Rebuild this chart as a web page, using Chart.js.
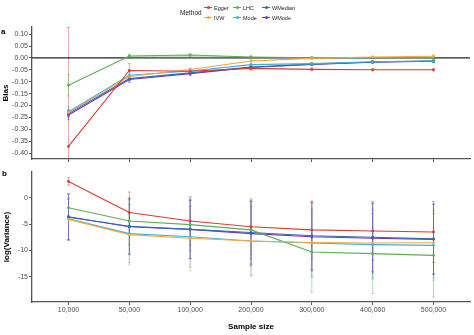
<!DOCTYPE html>
<html>
<head>
<meta charset="utf-8">
<script src="https://cdn.jsdelivr.net/npm/chart.js@4.4.0/dist/chart.umd.min.js"></script>
<style>
  body { margin: 0; background: #fff; font-family: "Liberation Sans", Arial, sans-serif; }
  #wrap { position: relative; width: 474px; height: 335px; overflow: hidden; }
  canvas { position: absolute; left: 0; }
  .t { position: absolute; white-space: nowrap; color: #000; }
  .lab { position: absolute; font-size: 5.5px; color: #222; line-height: 6px; }
  .sym { position: absolute; width: 8px; height: 1.3px; }
  .dot { position: absolute; width: 3px; height: 3px; border-radius: 50%; }
</style>
</head>
<body>
<div id="wrap">
  <canvas id="top" width="474" height="165" style="top:0"></canvas>
  <canvas id="bot" width="474" height="170" style="top:165px"></canvas>
  <div class="t" style="left:1px;top:27px;font-size:8px;font-weight:bold">a</div>
  <div class="t" style="left:2px;top:169px;font-size:8px;font-weight:bold">b</div>
  <div class="t" style="left:5px;top:93px;font-size:8px;font-weight:bold;transform:translate(-50%,-50%) rotate(-90deg)">Bias</div>
  <div class="t" style="left:6px;top:237px;font-size:8px;font-weight:bold;transform:translate(-50%,-50%) rotate(-90deg)">log(Variance)</div>
  <div class="t" style="left:251px;top:326px;font-size:8px;font-weight:bold;transform:translate(-50%,-50%)">Sample size</div>
  <div class="t" style="left:180px;top:9px;font-size:6.5px;color:#222">Method</div>
  <div id="legend"></div>
</div>
<script>
// x categories
const sampleSizes = ['10,000', '50,000', '100,000', '200,000', '300,000', '400,000', '500,000'];
const methods = ['Egger', 'IVW', 'LHC', 'Mode', 'WMedian', 'WMode'];
const colors = ['#DC3A35', '#F3A83A', '#5BAE55', '#3DB0E0', '#2E6DB4', '#7B2FBF'];

// panel a: bias
const biasEgger   = [-0.372, -0.053, -0.056, -0.044, -0.048, -0.050, -0.050];
const biasIVW     = [-0.230, -0.078, -0.049, -0.013, -0.002, 0.004, 0.007];
const biasLHC     = [-0.115, 0.008, 0.012, 0.004, 0.001, 0.001, 0.001];
const biasMode    = [-0.226, -0.073, -0.055, -0.028, -0.024, -0.016, -0.012];
const biasWMedian = [-0.234, -0.087, -0.063, -0.038, -0.026, -0.017, -0.013];
const biasWMode   = [-0.240, -0.091, -0.066, -0.040, -0.027, -0.018, -0.014];
// error bar half widths
const biasErrEgger   = [0.50, 0.030, 0.010, 0.008, 0.006, 0.005, 0.005];
const biasErrIVW     = [0.015, 0.010, 0.006, 0.005, 0.004, 0.004, 0.005];
const biasErrLHC     = [0.045, 0.008, 0.006, 0.004, 0.003, 0.003, 0.003];
const biasErrMode    = [0.020, 0.012, 0.008, 0.006, 0.005, 0.004, 0.004];
const biasErrWMedian = [0.015, 0.010, 0.006, 0.005, 0.004, 0.004, 0.004];
const biasErrWMode   = [0.020, 0.012, 0.008, 0.006, 0.005, 0.004, 0.004];
const biasTicks = [0.10, 0.05, 0.00, -0.05, -0.10, -0.15, -0.20, -0.25, -0.30, -0.35, -0.40];

// panel b: log(variance)
const varEgger   = [3.1, -2.8, -4.4, -5.5, -6.1, -6.3, -6.5];
const varIVW     = [-4.1, -7.0, -7.7, -8.2, -8.5, -8.6, -8.55];
const varLHC     = [-1.9, -4.4, -5.1, -6.1, -10.3, -10.6, -10.95];
const varMode    = [-4.0, -6.8, -7.4, -8.2, -8.6, -8.9, -9.05];
const varWMedian = [-3.7, -5.4, -6.0, -6.6, -7.2, -7.5, -7.8];
const varWMode   = [-3.6, -5.5, -6.0, -6.8, -7.4, -7.7, -7.9];
const varErrEgger   = [0.7, 3.9, 4.6, 5.3, 5.5, 5.6, 5.8];
const varErrIVW     = [4.0, 5.8, 6.2, 6.7, 6.5, 6.6, 6.6];
const varErrLHC     = [1.6, 4.5, 5.0, 5.5, 7.6, 7.6, 7.9];
const varErrMode    = [4.0, 5.5, 5.8, 6.5, 6.4, 6.5, 6.6];
const varErrWMedian = [4.3, 5.2, 5.5, 6.0, 6.4, 6.5, 6.6];
const varErrWMode   = [4.4, 5.3, 5.6, 6.1, 6.5, 6.6, 6.7];
const varTicks = [0, -5, -10, -15];

const biasSeries = [biasEgger, biasIVW, biasLHC, biasMode, biasWMedian, biasWMode];
const biasErrs = [biasErrEgger, biasErrIVW, biasErrLHC, biasErrMode, biasErrWMedian, biasErrWMode];
const varSeries = [varEgger, varIVW, varLHC, varMode, varWMedian, varWMode];
const varErrs = [varErrEgger, varErrIVW, varErrLHC, varErrMode, varErrWMedian, varErrWMode];

function alpha(hex, a) {
  const n = parseInt(hex.slice(1), 16);
  return 'rgba(' + (n >> 16) + ',' + ((n >> 8) & 255) + ',' + (n & 255) + ',' + a + ')';
}

// error bars drawn under the lines
const errorBars = {
  id: 'errorBars',
  beforeDatasetsDraw(chart) {
    const ctx = chart.ctx, a = chart.chartArea;
    const xs = chart.scales.x, ys = chart.scales.y;
    ctx.save();
    ctx.beginPath();
    ctx.rect(a.left, a.top, a.right - a.left, a.bottom - a.top);
    ctx.clip();
    chart.data.datasets.forEach(ds => {
      ctx.strokeStyle = alpha(ds.borderColor, 0.55);
      ctx.lineWidth = 0.8;
      ds.data.forEach((p, j) => {
        const e = ds.err[j];
        const x = xs.getPixelForValue(p.x);
        const y1 = ys.getPixelForValue(p.y + e), y2 = ys.getPixelForValue(p.y - e);
        ctx.beginPath();
        ctx.moveTo(x, y1); ctx.lineTo(x, y2);
        ctx.moveTo(x - 1.5, y1); ctx.lineTo(x + 1.5, y1);
        ctx.moveTo(x - 1.5, y2); ctx.lineTo(x + 1.5, y2);
        ctx.stroke();
      });
    });
    ctx.restore();
  }
};

const zeroLine = {
  id: 'zeroLine',
  beforeDatasetsDraw(chart, args, opts) {
    if (!opts.show) return;
    const ctx = chart.ctx, a = chart.chartArea;
    const y = chart.scales.y.getPixelForValue(0);
    ctx.save();
    ctx.strokeStyle = '#222';
    ctx.lineWidth = 1.3;
    ctx.beginPath();
    ctx.moveTo(a.left, y); ctx.lineTo(a.right, y);
    ctx.stroke();
    ctx.restore();
  }
};

function makeDatasets(series, errs, withFill) {
  return series.map((vals, i) => ({
    label: methods[i],
    data: vals.map((v, j) => ({ x: j, y: v })),
    err: errs[i],
    borderColor: colors[i],
    backgroundColor: colors[i],
    borderWidth: 1.1,
    pointRadius: 1.4,
    pointBorderWidth: 0,
    fill: withFill ? { target: 'origin', above: alpha(colors[i], 0.35), below: 'rgba(0,0,0,0)' } : false,
    tension: 0
  }));
}

function makeChart(id, datasets, yMin, yMax, yTicks, yFmt, xHeight, padTop, showX, showZero) {
  return new Chart(document.getElementById(id), {
    type: 'line',
    data: { datasets: datasets },
    plugins: [errorBars, zeroLine],
    options: {
      responsive: false,
      animation: false,
      devicePixelRatio: 1,
      layout: { padding: { left: 0, right: 4, top: padTop, bottom: 0 } },
      plugins: { legend: { display: false }, tooltip: { enabled: false }, zeroLine: { show: showZero } },
      scales: {
        x: {
          type: 'linear', min: -0.6, max: 6.6,
          afterBuildTicks: s => { s.ticks = sampleSizes.map((_, i) => ({ value: i })); },
          afterFit: s => { s.height = xHeight; },
          grid: { display: true, drawOnChartArea: false, drawTicks: true, tickLength: 3, color: '#555' },
          border: { color: '#555', width: 1.3 },
          ticks: {
            display: showX, padding: 1, color: '#4d4d4d', maxRotation: 0, autoSkip: false,
            font: { size: 7, family: 'Liberation Sans' },
            callback: v => sampleSizes[v]
          }
        },
        y: {
          min: yMin, max: yMax,
          afterBuildTicks: s => { s.ticks = yTicks.map(v => ({ value: v })); },
          afterFit: s => { s.width = 32; },
          grid: { display: true, drawOnChartArea: false, drawTicks: true, tickLength: 3, color: '#555' },
          border: { color: '#555', width: 1.3 },
          ticks: {
            padding: 1, color: '#4d4d4d',
            font: { size: 7, family: 'Liberation Sans' },
            callback: yFmt
          }
        }
      }
    }
  });
}

makeChart('top', makeDatasets(biasSeries, biasErrs, true), -0.425, 0.13, biasTicks,
  v => v.toFixed(2), 6, 27, false, true);
makeChart('bot', makeDatasets(varSeries, varErrs, false), -19.8, 4.9, varTicks,
  v => String(v), 33, 7, true, false);

// legend, two rows of three
const legend = document.getElementById('legend');
const colX = [204, 233, 262];
const rowY = [7.5, 17.5];
methods.forEach((m, i) => {
  const col = Math.floor(i / 2), row = i % 2;
  const x = colX[col], y = rowY[row];
  const line = document.createElement('div');
  line.className = 'sym';
  line.style.left = x + 'px'; line.style.top = (y - 0.6) + 'px';
  line.style.background = colors[i];
  const dot = document.createElement('div');
  dot.className = 'dot';
  dot.style.left = (x + 2.5) + 'px'; dot.style.top = (y - 1.5) + 'px';
  dot.style.background = colors[i];
  const lab = document.createElement('div');
  lab.className = 'lab';
  lab.style.left = (x + 10) + 'px'; lab.style.top = (y - 3) + 'px';
  lab.textContent = m;
  legend.appendChild(line); legend.appendChild(dot); legend.appendChild(lab);
});
</script>
</body>
</html>
